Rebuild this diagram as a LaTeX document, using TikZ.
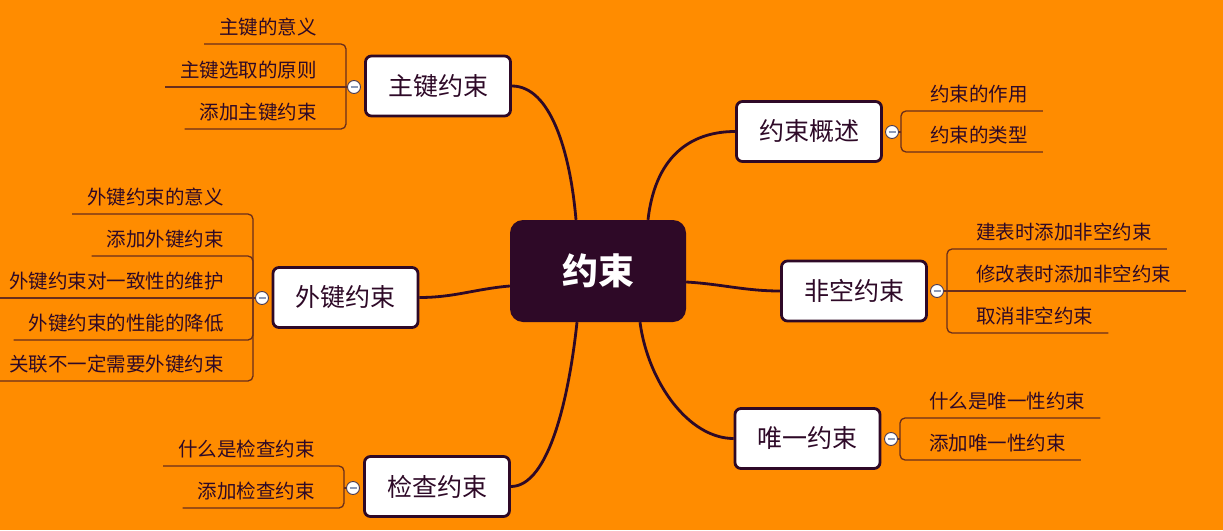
\documentclass[tikz,border=0pt]{standalone}
\usepackage{fontspec}
\newfontfamily\cjk{Noto Sans CJK SC}
\usetikzlibrary{calc,backgrounds}
\definecolor{bgor}{HTML}{FF8C00}
\definecolor{dk}{HTML}{2E0927}
\definecolor{cbord}{HTML}{4A3A52}
\definecolor{cminus}{HTML}{8C9AB8}
\colorlet{ulcol}{dk!72!bgor}
\begin{document}
\begin{tikzpicture}[x=1pt,y=-1pt,
 rootnode/.style={fill=dk, rounded corners=13pt, minimum width=176pt, minimum height=102pt, inner sep=0pt, text=white, font=\cjk\bfseries\fontsize{36}{40}\selectfont},
 topic/.style={draw=dk, line width=2.8pt, fill=white, rounded corners=6pt, minimum width=145pt, minimum height=60pt, inner sep=0pt, text=dk, font=\cjk\fontsize{25}{30}\selectfont},
 sub/.style={inner sep=0pt, text height=17pt, text depth=9.6pt, text=dk, font=\cjk\fontsize{19.5}{22}\selectfont},
 fold/.style={circle, draw=cbord, line width=0.9pt, fill=white, minimum size=13pt, inner sep=0pt,
   path picture={\draw[cminus, line width=1.6pt] ([xshift=-3.5pt]path picture bounding box.center) -- ([xshift=3.5pt]path picture bounding box.center);}},
 link/.style={draw=dk, line width=2.8pt},
 uline/.style={draw=ulcol, line width=1.3pt, rounded corners=5pt},
]
\useasboundingbox (0,0) rectangle (1223,530);

% main topics
\node[rootnode] (c) at (598,271) {约束};
\node[topic] (zj) at (438,86) {主键约束};
\node[topic] (gs) at (809,131.5) {约束概述};
\node[topic] (fk) at (854,291) {非空约束};
\node[topic] (wy) at (807.5,438.5) {唯一约束};
\node[topic] (jc) at (437,486.5) {检查约束};
\node[topic] (wj) at (345.5,297.5) {外键约束};

% fold markers
\node[fold] (zjf) at (354,87) {};
\node[fold] (gsf) at (892,132) {};
\node[fold] (fkf) at (937,291) {};
\node[fold] (wyf) at (891,439) {};
\node[fold] (jcf) at (353,488) {};
\node[fold] (wjf) at (262,298) {};

% bracket points
\coordinate (zjb) at (346,87);
\coordinate (gsb) at (901,132);
\coordinate (fkb) at (947,291);
\coordinate (wyb) at (900,439);
\coordinate (jcb) at (344,488);
\coordinate (wjb) at (253,298);

% subtopics
\node[sub, anchor=south east] (zj1) at (317,44) {主键的意义};
\node[sub, anchor=south east] (zj2) at (317,87) {主键选取的原则};
\node[sub, anchor=south east] (zj3) at (317,129) {添加主键约束};

\node[sub, anchor=south west] (gs1) at (930,111) {约束的作用};
\node[sub, anchor=south west] (gs2) at (930,152) {约束的类型};

\node[sub, anchor=south west] (fk1) at (976,249) {建表时添加非空约束};
\node[sub, anchor=south west] (fk2) at (976,291) {修改表时添加非空约束};
\node[sub, anchor=south west] (fk3) at (976,333) {取消非空约束};

\node[sub, anchor=south west] (wy1) at (929,418) {什么是唯一性约束};
\node[sub, anchor=south west] (wy2) at (929,460) {添加唯一性约束};

\node[sub, anchor=south east] (jc1) at (315,466) {什么是检查约束};
\node[sub, anchor=south east] (jc2) at (315,508) {添加检查约束};

\node[sub, anchor=south east] (wj1) at (224,214) {外键约束的意义};
\node[sub, anchor=south east] (wj2) at (224,256) {添加外键约束};
\node[sub, anchor=south east] (wj3) at (224,298) {外键约束对一致性的维护};
\node[sub, anchor=south east] (wj4) at (224,340) {外键约束的性能的降低};
\node[sub, anchor=south east] (wj5) at (224,381) {关联不一定需要外键约束};

\begin{scope}[on background layer]
\fill[bgor] (0,0) rectangle (1223,530);
% main links
\draw[link] ($(c.north)+(-22,0)$) .. controls +(-6,-70) and +(38,0) .. (zj.east);
\draw[link] ($(c.north)+(50,0)$) .. controls +(8,-70) and +(-38,0) .. (gs.west);
\draw[link] ($(c.east)+(0,11)$) .. controls +(35,2) and +(-35,0) .. (fk.west);
\draw[link] ($(c.south)+(42,0)$) .. controls +(8,60) and +(-45,0) .. (wy.west);
\draw[link] ($(c.south)+(-21,0)$) .. controls +(-8,75) and +(38,0) .. (jc.east);
\draw[link] ($(c.west)+(0,15)$) .. controls +(-35,3) and +(35,0) .. (wj.east);
% sub links
\draw[uline] (zjf.west) -- (zjb);
\draw[uline] (zjb) |- ([xshift=-15pt]zj1.south west);
\draw[uline] (zjb) -- ([xshift=-15pt]zj2.south west);
\draw[uline] (zjb) |- ([xshift=-15pt]zj3.south west);

\draw[uline] (gsf.east) -- (gsb);
\draw[uline] (gsb) |- ([xshift=15pt]gs1.south east);
\draw[uline] (gsb) |- ([xshift=15pt]gs2.south east);

\draw[uline] (fkf.east) -- (fkb);
\draw[uline] (fkb) |- ([xshift=15pt]fk1.south east);
\draw[uline] (fkb) -- ([xshift=15pt]fk2.south east);
\draw[uline] (fkb) |- ([xshift=15pt]fk3.south east);

\draw[uline] (wyf.east) -- (wyb);
\draw[uline] (wyb) |- ([xshift=15pt]wy1.south east);
\draw[uline] (wyb) |- ([xshift=15pt]wy2.south east);

\draw[uline] (jcf.west) -- (jcb);
\draw[uline] (jcb) |- ([xshift=-15pt]jc1.south west);
\draw[uline] (jcb) |- ([xshift=-15pt]jc2.south west);

\draw[uline] (wjf.west) -- (wjb);
\draw[uline] (wjb) |- ([xshift=-15pt]wj1.south west);
\draw[uline] (wjb) |- ([xshift=-15pt]wj2.south west);
\draw[uline] (wjb) -- ([xshift=-15pt]wj3.south west);
\draw[uline] (wjb) |- ([xshift=-15pt]wj4.south west);
\draw[uline] (wjb) |- ([xshift=-15pt]wj5.south west);
\end{scope}
\end{tikzpicture}
\end{document}
